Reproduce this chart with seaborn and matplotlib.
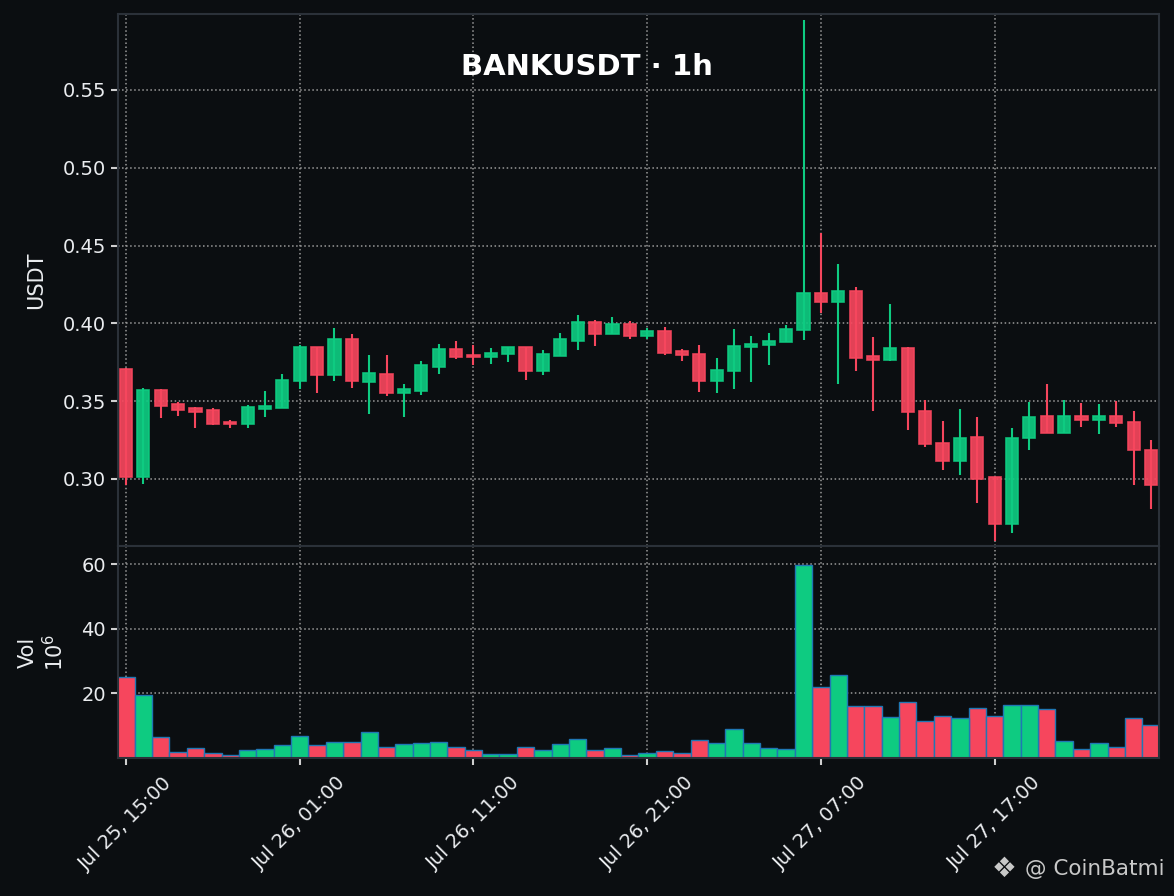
import numpy as np
import pandas as pd
import matplotlib
matplotlib.use("Agg")
import matplotlib.pyplot as plt
import seaborn as sns

# hourly candles, starting Jul 25 15:00
start = "2025-07-25 15:00"
opens = [0.3705, 0.3015, 0.3572, 0.3482, 0.3456, 0.3443, 0.3366, 0.3355, 0.3448, 0.3458,
         0.3628, 0.3846, 0.3666, 0.3898, 0.3625, 0.3673, 0.3555, 0.3564, 0.3722, 0.3834,
         0.3795, 0.3782, 0.3801, 0.3846, 0.3696, 0.3792, 0.3889, 0.4007, 0.3934, 0.3996,
         0.3921, 0.3949, 0.3821, 0.3801, 0.3628, 0.3692, 0.3846, 0.3859, 0.3879, 0.3956,
         0.4193, 0.4136, 0.4206, 0.3789, 0.3763, 0.3840, 0.3435, 0.3229, 0.3114, 0.3268,
         0.3011, 0.2709, 0.3262, 0.3403, 0.3294, 0.3403, 0.3377, 0.3403, 0.3368, 0.3188]
highs = [0.3712, 0.3585, 0.3576, 0.3495, 0.3463, 0.3454, 0.3379, 0.3474, 0.3566, 0.3675,
         0.3861, 0.3850, 0.3970, 0.3932, 0.3797, 0.3797, 0.3611, 0.3758, 0.3868, 0.3887,
         0.3861, 0.3842, 0.3850, 0.3850, 0.3829, 0.3938, 0.4054, 0.4022, 0.4041, 0.4015,
         0.3970, 0.3977, 0.3835, 0.3861, 0.3778, 0.3964, 0.3919, 0.3938, 0.3990, 0.5950,
         0.4581, 0.4380, 0.4232, 0.3913, 0.4125, 0.3846, 0.3508, 0.3373, 0.3450, 0.3398,
         0.3015, 0.3326, 0.3493, 0.3609, 0.3508, 0.3486, 0.3482, 0.3503, 0.3435, 0.3249]
lows = [0.2961, 0.2968, 0.3394, 0.3407, 0.3330, 0.3347, 0.3330, 0.3330, 0.3400, 0.3455,
        0.3578, 0.3555, 0.3632, 0.3587, 0.3420, 0.3535, 0.3400, 0.3542, 0.3675, 0.3773,
        0.3733, 0.3739, 0.3752, 0.3636, 0.3668, 0.3790, 0.3829, 0.3855, 0.3932, 0.3900,
        0.3900, 0.3799, 0.3760, 0.3561, 0.3555, 0.3580, 0.3625, 0.3735, 0.3877, 0.3895,
        0.4069, 0.3612, 0.3696, 0.3439, 0.3760, 0.3317, 0.3208, 0.3060, 0.3028, 0.2844,
        0.2603, 0.2651, 0.3188, 0.3292, 0.3292, 0.3336, 0.3291, 0.3336, 0.2963, 0.2809]
closes = [0.3015, 0.3572, 0.3471, 0.3445, 0.3433, 0.3355, 0.3355, 0.3461, 0.3467, 0.3634,
          0.3846, 0.3666, 0.3898, 0.3628, 0.3679, 0.3555, 0.3576, 0.3731, 0.3834, 0.3786,
          0.3782, 0.3808, 0.3846, 0.3696, 0.3801, 0.3898, 0.4007, 0.3934, 0.3994, 0.3921,
          0.3949, 0.3812, 0.3795, 0.3628, 0.3699, 0.3853, 0.3866, 0.3885, 0.3962, 0.4193,
          0.4136, 0.4206, 0.3776, 0.3763, 0.3840, 0.3429, 0.3223, 0.3114, 0.3262, 0.3002,
          0.2709, 0.3262, 0.3397, 0.3294, 0.3403, 0.3377, 0.3403, 0.3362, 0.3184, 0.2960]
# volume in millions
volumes = [25.0, 19.5, 6.5, 2.0, 3.2, 1.5, 1.0, 2.6, 2.9, 4.1,
           6.9, 4.1, 5.0, 5.0, 8.2, 3.5, 4.4, 4.7, 5.0, 3.5,
           2.4, 1.3, 1.3, 3.5, 2.6, 4.4, 6.0, 2.6, 3.2, 1.0,
           1.7, 2.3, 1.7, 5.7, 4.7, 9.0, 4.7, 3.2, 2.9, 59.6,
           22.0, 25.7, 16.1, 16.1, 12.7, 17.3, 11.5, 13.0, 12.4, 15.5,
           13.0, 16.4, 16.4, 15.2, 5.4, 2.9, 4.7, 3.5, 12.4, 10.3]

times = pd.date_range(start, periods=len(opens), freq="h")
df = pd.DataFrame({"t": np.arange(len(opens)), "open": opens, "high": highs,
                   "low": lows, "close": closes, "volume": volumes})
df["dir"] = np.where(df["close"] >= df["open"], "up", "down")

bg = "#0b0e11"
up_c = "#0ecb81"
down_c = "#f6465d"
frame = "#2b3139"
txt = "#eaecef"

sns.set_theme(style="dark", rc={
    "figure.facecolor": bg, "axes.facecolor": bg, "axes.edgecolor": frame,
    "axes.labelcolor": txt, "text.color": txt, "xtick.color": "#d0d0d0",
    "ytick.color": "#d0d0d0", "xtick.labelcolor": txt, "ytick.labelcolor": txt,
    "axes.linewidth": 1.5,
})
plt.rcParams["font.family"] = ["DejaVu Sans"]

fig, (ax, axv) = plt.subplots(2, 1, sharex=True, figsize=(11.74, 8.96), dpi=100,
                              gridspec_kw={"height_ratios": [532, 212], "hspace": 0})
fig.subplots_adjust(left=0.1005, right=0.9872, top=0.9844, bottom=0.154)

# volume bars
sns.barplot(data=df, x="t", y="volume", hue="dir", palette={"up": up_c, "down": down_c},
            dodge=False, width=1.0, saturation=1, edgecolor="#1f77b4", linewidth=1.0,
            errorbar=None, legend=False, ax=axv)

# candles
cols = df["dir"].map({"up": up_c, "down": down_c}).tolist()
ax.vlines(df["t"], df["low"], df["high"], colors=cols, linewidth=1.5, zorder=2)
body_lo = np.minimum(df["open"], df["close"])
body_h = np.maximum((df["open"] - df["close"]).abs(), 0.0008)
ax.bar(df["t"], body_h, bottom=body_lo, width=0.7, color=cols, edgecolor=cols,
       linewidth=1.2, alpha=0.92, zorder=3)

ax.set_xlim(-0.46, len(df) - 0.54)
ax.set_ylim(0.2569, 0.5988)
ax.set_yticks([0.30, 0.35, 0.40, 0.45, 0.50, 0.55])
ax.yaxis.set_major_formatter(matplotlib.ticker.FormatStrFormatter("%.2f"))
ax.set_ylabel("USDT", fontsize=15)
ax.yaxis.set_label_coords(-0.069, 0.5)

axv.set_ylim(0, 65.6)
axv.set_yticks([20, 40, 60])
axv.set_ylabel("Vol\n$10^{6}$", fontsize=15)
axv.yaxis.set_label_coords(-0.049, 0.5)
axv.set_xlabel("")

tick_pos = list(range(0, len(df), 10))
axv.set_xticks(tick_pos)
axv.set_xticklabels([times[i].strftime("%b %d, %H:%M") for i in tick_pos],
                    rotation=45, ha="center", fontsize=14)
ax.set_xlim(-0.46, len(df) - 0.54)

for a in (ax, axv):
    a.grid(True, linestyle=":", color="#9a9a9a", linewidth=1.1)
    a.set_axisbelow(True)
    a.tick_params(axis="y", labelsize=14, length=5, width=1.5, left=True)
    for s in a.spines.values():
        s.set_color(frame)
ax.tick_params(axis="x", length=0)
axv.tick_params(axis="x", length=5, width=1.5, bottom=True, pad=6)

fig.text(0.5, 1 - 67 / 896, "BANKUSDT · 1h", ha="center", va="center",
         fontsize=21, fontweight="bold", color="white")
fig.text(0.9915, 1 - 869 / 896, "@ CoinBatmi", ha="right", va="center",
         fontsize=15.5, color="#c8c8c8")
fig.text(1004 / 1174, 1 - 869 / 896, "❖", ha="center", va="center",
         fontsize=20, color="#c8c8c8")

fig.savefig("out.png", dpi=100, facecolor=bg)
